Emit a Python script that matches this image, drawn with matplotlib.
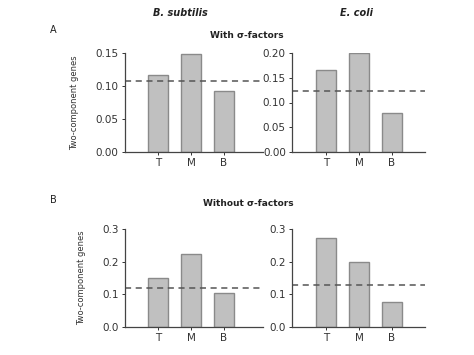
"""
Two-component genes per layer (T, M, B), with and without sigma-factors
"""
import numpy as np
import matplotlib.pyplot as plt

layers = ['T', 'M', 'B']

# with sigma-factors
bsub_with = [0.117, 0.148, 0.093]
ecoli_with = [0.166, 0.200, 0.079]
bsub_with_mean = 0.107
ecoli_with_mean = 0.123

# without sigma-factors
bsub_without = [0.150, 0.222, 0.103]
ecoli_without = [0.271, 0.200, 0.077]
bsub_without_mean = 0.120
ecoli_without_mean = 0.129

bsub_with_ticks = [0.00, 0.05, 0.10, 0.15]
ecoli_with_ticks = [0.00, 0.05, 0.10, 0.15, 0.20]
without_ticks = [0.0, 0.1, 0.2, 0.3]

W, H = 474, 355
fig = plt.figure(figsize=(W / 100, H / 100), dpi=100)


def px_axes(x0, y0, x1, y1):
    # pixel box (left, top, right, bottom) -> figure fraction
    return fig.add_axes([x0 / W, 1 - y1 / H, (x1 - x0) / W, (y1 - y0) / H])


def panel(ax, vals, mean, ticks, fmt, xlim):
    x = np.arange(len(vals))
    ax.bar(x, vals, width=0.6, color='#c0c0c0', edgecolor='#8a8a8a', linewidth=1.0)
    ax.axhline(mean, color='#555555', ls=(0, (4, 3)), lw=1.1)
    ax.set_xticks(x)
    ax.set_xticklabels(layers)
    ax.set_yticks(ticks)
    ax.set_yticklabels([fmt % t for t in ticks])
    ax.set_ylim(ticks[0], ticks[-1])
    ax.set_xlim(*xlim)
    for s in ['top', 'right']:
        ax.spines[s].set_visible(False)
    for s in ['left', 'bottom']:
        ax.spines[s].set_color('#444444')
        ax.spines[s].set_linewidth(0.9)
    ax.tick_params(labelsize=7.5, colors='#333333', length=2.5, width=0.7, pad=2)


ax1 = px_axes(125, 53, 263, 152)
panel(ax1, bsub_with, bsub_with_mean, bsub_with_ticks, '%.2f', (-1.0, 3.18))
ax2 = px_axes(292, 53, 425, 152)
panel(ax2, ecoli_with, ecoli_with_mean, ecoli_with_ticks, '%.2f', (-1.03, 3.0))
ax3 = px_axes(125, 229, 263, 327)
panel(ax3, bsub_without, bsub_without_mean, without_ticks, '%.1f', (-1.0, 3.18))
ax4 = px_axes(292, 229, 425, 327)
panel(ax4, ecoli_without, ecoli_without_mean, without_ticks, '%.1f', (-1.03, 3.0))

for ax in (ax1, ax3):
    ax.set_ylabel('Two-component genes', fontsize=6, color='#333333', labelpad=12)


def ftext(x, y, s, **kw):
    fig.text(x / W, 1 - y / H, s, ha='center', va='center', color='#222222', **kw)


ftext(180, 13, 'B. subtilis', fontsize=7, fontweight='bold', style='italic')
ftext(357, 13, 'E. coli', fontsize=7, fontweight='bold', style='italic')
ftext(53, 30, 'A', fontsize=7)
ftext(53, 200, 'B', fontsize=7)
ftext(247, 35, 'With \u03c3-factors', fontsize=6.5, fontweight='bold')
ftext(248, 203, 'Without \u03c3-factors', fontsize=6.5, fontweight='bold')

plt.savefig('out.png', dpi=100)
